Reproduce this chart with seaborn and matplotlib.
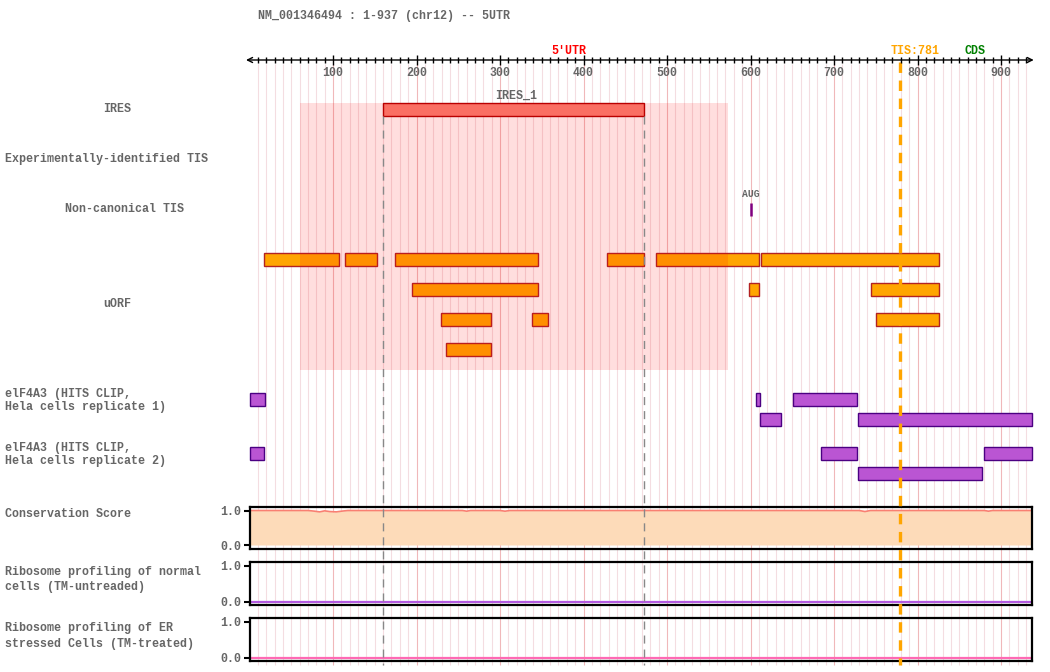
import matplotlib
matplotlib.use("Agg")
import matplotlib.pyplot as plt
import seaborn as sns
import pandas as pd

# ---------------- data ----------------
title = "NM_001346494 : 1-937 (chr12) -- 5UTR"
seq_len = 937
tis_pos = 781
axis_major = [100, 200, 300, 400, 500, 600, 700, 800, 900]
axis_minor = list(range(10, 940, 10))

ires_names = ["IRES_1"]
ires_start = [160]
ires_end = [472]
ires_shade = [60, 573]

noncanon_pos = [600]
noncanon_codon = ["AUG"]

uorf_start = [17, 114, 174, 428, 487, 613, 195, 598, 744, 229, 338, 750, 235]
uorf_end = [107, 153, 346, 472, 610, 826, 346, 610, 826, 289, 358, 826, 289]
uorf_row = [0, 0, 0, 0, 0, 0, 1, 1, 1, 2, 2, 2, 3]

eif_rep1_start = [1, 606, 651, 611, 729]
eif_rep1_end = [19, 611, 728, 636, 937]
eif_rep1_row = [0, 0, 0, 1, 1]

eif_rep2_start = [1, 685, 880, 729]
eif_rep2_end = [17, 728, 937, 877]
eif_rep2_row = [0, 0, 0, 1]

cons_pos = [1, 70, 78, 84, 90, 96, 104, 110, 118, 255, 260, 265, 300, 306,
            312, 730, 737, 744, 880, 885, 890, 937]
cons_score = [1.0, 1.0, 0.98, 0.96, 0.99, 0.97, 0.96, 0.98, 1.0, 1.0, 0.98,
              1.0, 1.0, 0.98, 1.0, 1.0, 0.97, 1.0, 1.0, 0.98, 1.0, 1.0]

ribo_pos = [1, 937]
ribo_normal = [0.0, 0.0]
ribo_er = [0.0, 0.0]

# ---------------- style ----------------
sns.set_theme(style="white")
plt.rcParams["font.family"] = ["Liberation Mono", "DejaVu Sans Mono"]
plt.rcParams["lines.scale_dashes"] = False

W, H = 1050, 672
PX0, SC = 249.5, 0.835
GREY = "#666666"
FS = 8.4

fig = plt.figure(figsize=(W / 100, H / 100), dpi=100)


def full_axes(z):
    a = fig.add_axes([0, 0, 1, 1], zorder=z)
    a.set_xlim(-PX0 / SC, (W - PX0) / SC)
    a.set_ylim(H, 0)
    a.axis("off")
    a.patch.set_alpha(0)
    return a


# grid layer
axg = full_axes(0)
minor_only = [p for p in axis_minor if p not in axis_major]
axg.vlines(minor_only, 64, 665, colors="#f4dde1", lw=0.8)
axg.vlines(axis_major, 64, 665, colors="#f0b8ba", lw=0.8)


# panels
def panel(top, bottom, one_px, zero_px):
    pa = fig.add_axes([PX0 / W, 1 - bottom / H, seq_len * SC / W, (bottom - top) / H], zorder=1)
    per = zero_px - one_px
    pa.set_xlim(0, seq_len)
    pa.set_ylim(-(bottom - zero_px) / per, 1 + (one_px - top) / per)
    pa.patch.set_alpha(0)
    pa.set_xticks([])
    pa.set_yticks([0, 1])
    pa.set_yticklabels(["0.0", "1.0"])
    pa.tick_params(axis="y", left=True, length=4, width=1.5, color="black",
                   labelsize=FS, labelcolor=GREY, pad=2)
    for lab in pa.get_yticklabels():
        lab.set_fontweight("bold")
    for s in pa.spines.values():
        s.set_visible(True)
        s.set_color("black")
        s.set_linewidth(1.6)
    return pa


p1 = panel(507, 549, 510.5, 545)
cons_df = pd.DataFrame({"pos": cons_pos, "score": cons_score})
p1.fill_between(cons_df["pos"], 0, cons_df["score"], color="#fddbb9", lw=0)
sns.lineplot(data=cons_df, x="pos", y="score", ax=p1, color="#f98072", lw=1.2)
p1.set_xlabel("")
p1.set_ylabel("")

p2 = panel(562, 605, 566, 602)
sns.lineplot(x=ribo_pos, y=ribo_normal, ax=p2, color="#b45ae0", lw=1.6)

p3 = panel(618, 661, 622, 658)
sns.lineplot(x=ribo_pos, y=ribo_er, ax=p3, color="#ff69b4", lw=1.6)

# main layer
ax = full_axes(2)

# dashed guides
for p in (ires_start[0], ires_end[0]):
    ax.vlines(p, 116, 665, colors="#888888", lw=1.0, linestyles=(0, (5.8, 4.3)))
ax.vlines(tis_pos - 1.5, 62, 665, colors="#ffa500", lw=2.4, linestyles=(0, (7.5, 5.5)))

# top axis
ax.annotate("", xy=(-7.5, 60), xytext=(942.5, 60),
            arrowprops=dict(arrowstyle="<->", lw=1.0, color="black", mutation_scale=9))
ax.vlines(minor_only, 57, 63, colors="black", lw=1.0)
ax.vlines(axis_major, 55, 65, colors="black", lw=1.0)
for t in axis_major:
    ax.text(t, 72.5, str(t), ha="center", va="center", fontsize=FS,
            fontweight="bold", color=GREY)
ax.text(tis_pos / 2 - 8.5, 51.5, "5'UTR", ha="center", va="center", fontsize=FS,
        fontweight="bold", color="red")
ax.text(tis_pos + 16, 51.5, "TIS:781", ha="center", va="center", fontsize=FS,
        fontweight="bold", color="#ffa500")
ax.text((975 - PX0) / SC, 51.5, "CDS", ha="center", va="center", fontsize=FS,
        fontweight="bold", color="#008000")

# IRES
ax.barh([109.5] * len(ires_start), [e - s for s, e in zip(ires_start, ires_end)],
        left=ires_start, height=13, color="#fa8072", edgecolor="#b00000", lw=1.0)
for n, s, e in zip(ires_names, ires_start, ires_end):
    ax.text((s + e) / 2 + 3, 96, n, ha="center", va="center", fontsize=FS,
            fontweight="bold", color=GREY)

# non-canonical TIS
ax.vlines(noncanon_pos, 203, 216, colors="#800080", lw=1.8)
for p, c in zip(noncanon_pos, noncanon_codon):
    ax.text(p, 194, c, ha="center", va="center", fontsize=7.0,
            fontweight="bold", color=GREY)

# uORFs
uorf_y = [259.5 + 30 * r for r in uorf_row]
ax.barh(uorf_y, [e - s for s, e in zip(uorf_start, uorf_end)], left=uorf_start,
        height=13, color="#ffa500", edgecolor="#b22222", lw=1.0)

# eIF4A3
ax.barh([399.5 + 20 * r for r in eif_rep1_row],
        [e - s for s, e in zip(eif_rep1_start, eif_rep1_end)], left=eif_rep1_start,
        height=13, color="#ba55d3", edgecolor="#4b0082", lw=1.0)
ax.barh([453.5 + 20 * r for r in eif_rep2_row],
        [e - s for s, e in zip(eif_rep2_start, eif_rep2_end)], left=eif_rep2_start,
        height=13, color="#ba55d3", edgecolor="#4b0082", lw=1.0)

# IRES shaded region (on top)
ax.bar([ires_shade[0]], [267], width=[ires_shade[1] - ires_shade[0]], bottom=103,
       align="edge", color=(1.0, 0.0, 0.0, 0.13), lw=0)


# left labels
def ftext(x, y, s, ha="left"):
    fig.text(x / W, 1 - y / H, s, ha=ha, va="center", fontsize=FS,
             fontweight="bold", color=GREY)


ftext(258, 16, title)
ftext(117, 109, "IRES", "center")
ftext(5, 159, "Experimentally-identified TIS")
ftext(124.5, 209, "Non-canonical TIS", "center")
ftext(117, 304, "uORF", "center")
ftext(5, 394, "elF4A3 (HITS CLIP,")
ftext(5, 407, "Hela cells replicate 1)")
ftext(5, 448, "elF4A3 (HITS CLIP,")
ftext(5, 461, "Hela cells replicate 2)")
ftext(5, 514, "Conservation Score")
ftext(5, 572, "Ribosome profiling of normal")
ftext(5, 587, "cells (TM-untreaded)")
ftext(5, 628, "Ribosome profiling of ER")
ftext(5, 644, "stressed Cells (TM-treated)")

fig.savefig("out.png", dpi=100)
